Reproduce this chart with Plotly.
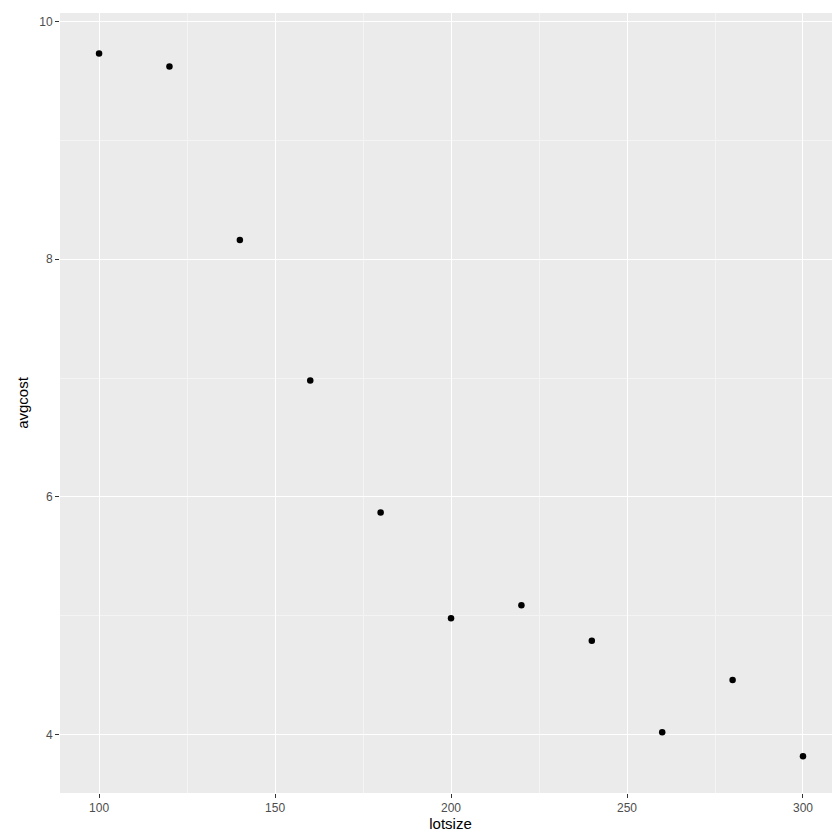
import plotly.graph_objects as go

lotsize = [100, 120, 140, 160, 180, 200, 220, 240, 260, 280, 300]
avgcost = [9.73, 9.62, 8.16, 6.98, 5.87, 4.98, 5.09, 4.79, 4.02, 4.46, 3.82]

fig = go.Figure(go.Scatter(x=lotsize, y=avgcost, mode="markers",
                           marker=dict(color="black", size=6.5)))

axis_common = dict(
    showgrid=True, gridcolor="white", gridwidth=1.1,
    ticks="outside", ticklen=4, tickcolor="#333333",
    tickfont=dict(color="#4D4D4D", size=12),
    zeroline=False, showline=False, automargin=False,
    title_font=dict(size=15, color="black"),
)

fig.update_xaxes(axis_common, range=[88.9, 310.8], tickvals=[100, 150, 200, 250, 300],
                 minor=dict(tickvals=[125, 175, 225, 275], showgrid=True,
                            gridcolor="#F4F4F4", gridwidth=0.6, ticks=""),
                 title_text="lotsize", title_standoff=4)
fig.update_yaxes(axis_common, range=[3.51, 10.07], tickvals=[4, 6, 8, 10],
                 minor=dict(tickvals=[5, 7, 9], showgrid=True,
                            gridcolor="#F4F4F4", gridwidth=0.6, ticks=""),
                 title_text="avgcost", title_standoff=6)

fig.update_layout(
    width=840, height=840, autosize=False,
    margin=dict(l=52, r=7, t=5, b=55),
    plot_bgcolor="#EBEBEB", paper_bgcolor="white",
    font=dict(family="Liberation Sans, Arial, sans-serif"),
    showlegend=False,
)

fig.write_html("out.html")
